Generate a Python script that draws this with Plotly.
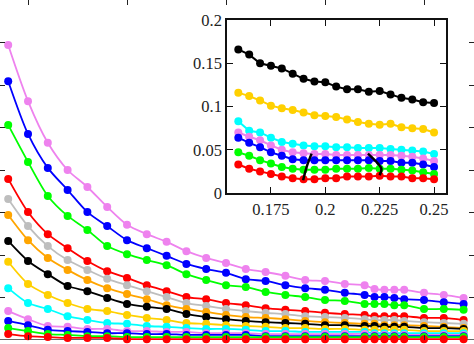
import plotly.graph_objects as go

# ---------------- main panel data ----------------
x_main = [0.04, 0.05, 0.06, 0.07, 0.08, 0.09, 0.10, 0.11, 0.12, 0.13, 0.14, 0.15,
          0.16, 0.17, 0.18, 0.19, 0.20, 0.21, 0.22, 0.225, 0.23, 0.235, 0.24,
          0.25, 0.26, 0.27]

pink_a = [0.694, 0.562, 0.464, 0.400, 0.360, 0.313, 0.271, 0.249, 0.231, 0.209, 0.193, 0.181,
          0.167, 0.160, 0.151, 0.141, 0.139, 0.132, 0.129, 0.120, 0.118, 0.118, 0.118,
          0.111, 0.106, 0.099]
blue_a = [0.609, 0.485, 0.405, 0.353, 0.301, 0.268, 0.235, 0.216, 0.198, 0.179, 0.167, 0.158,
          0.143, 0.139, 0.129, 0.122, 0.118, 0.111, 0.106, 0.101, 0.101, 0.099, 0.096,
          0.094, 0.089, 0.085]
green_a = [0.506, 0.419, 0.339, 0.292, 0.259, 0.221, 0.202, 0.188, 0.176, 0.155, 0.141, 0.129,
           0.125, 0.113, 0.106, 0.101, 0.094, 0.092, 0.085, 0.085, 0.085, 0.082, 0.082,
           0.073, 0.073, 0.071]
red_a = [0.379, 0.301, 0.249, 0.216, 0.186, 0.162, 0.146, 0.129, 0.115, 0.101, 0.096, 0.087,
         0.082, 0.075, 0.071, 0.068, 0.064, 0.061, 0.059, 0.056, 0.056, 0.056, 0.056,
         0.052, 0.052, 0.047]
gray_a = [0.332, 0.268, 0.221, 0.188, 0.165, 0.144, 0.129, 0.115, 0.101, 0.087, 0.080, 0.073,
          0.068, 0.064, 0.061, 0.056, 0.054, 0.052, 0.049, 0.047, 0.047, 0.047, 0.045,
          0.042, 0.040, 0.038]
orange_a = [0.294, 0.235, 0.193, 0.165, 0.141, 0.122, 0.108, 0.096, 0.082, 0.073, 0.066, 0.059,
            0.054, 0.052, 0.049, 0.045, 0.042, 0.040, 0.038, 0.038, 0.035, 0.035, 0.035,
            0.033, 0.031, 0.028]
black_a = [0.233, 0.186, 0.155, 0.127, 0.115, 0.099, 0.085, 0.078, 0.073, 0.061, 0.054, 0.049,
           0.045, 0.042, 0.040, 0.038, 0.035, 0.035, 0.033, 0.033, 0.031, 0.031, 0.031,
           0.028, 0.028, 0.026]
yellow_a = [0.184, 0.132, 0.106, 0.087, 0.073, 0.068, 0.059, 0.052, 0.047, 0.040, 0.038, 0.035,
            0.033, 0.031, 0.028, 0.028, 0.026, 0.026, 0.024, 0.024, 0.024, 0.024, 0.024,
            0.021, 0.021, 0.021]
cyan_a = [0.122, 0.087, 0.073, 0.056, 0.047, 0.040, 0.038, 0.033, 0.031, 0.028, 0.026, 0.026,
          0.024, 0.021, 0.021, 0.019, 0.019, 0.019, 0.019, 0.016, 0.016, 0.016, 0.016,
          0.016, 0.016, 0.016]
pink_b = [0.068, 0.049, 0.033, 0.031, 0.026, 0.026, 0.021, 0.021, 0.019, 0.019, 0.016, 0.016,
          0.016, 0.014, 0.014, 0.014, 0.014, 0.014, 0.014, 0.012, 0.012, 0.012, 0.012,
          0.012, 0.012, 0.012]
blue_b = [0.045, 0.035, 0.024, 0.021, 0.019, 0.016, 0.016, 0.014, 0.014, 0.012, 0.012, 0.012,
          0.012, 0.009, 0.009, 0.009, 0.009, 0.009, 0.009, 0.009, 0.009, 0.009, 0.009,
          0.009, 0.009, 0.009]
green_b = [0.028, 0.021, 0.014, 0.012, 0.009, 0.009, 0.007, 0.007, 0.007, 0.007, 0.007, 0.007,
           0.007, 0.007, 0.007, 0.007, 0.007, 0.007, 0.007, 0.007, 0.007, 0.007, 0.007,
           0.007, 0.007, 0.007]
red_b = [0.014, 0.009, 0.007, 0.005, 0.005, 0.005, 0.002, 0.002, 0.002, 0.002, 0.002, 0.002,
         0.002, 0.002, 0.002, 0.002, 0.002, 0.002, 0.002, 0.002, 0.002, 0.002, 0.002,
         0.002, 0.002, 0.002]

main_series = [
    ("pink", pink_a, "#EE82EE"),
    ("blue", blue_a, "#0000FF"),
    ("green", green_a, "#00FF00"),
    ("red", red_a, "#FF0000"),
    ("gray", gray_a, "#BEBEBE"),
    ("orange", orange_a, "#FFA500"),
    ("black", black_a, "#000000"),
    ("yellow", yellow_a, "#FFD000"),
    ("cyan", cyan_a, "#00FFFF"),
    ("pink2", pink_b, "#EE82EE"),
    ("blue2", blue_b, "#0000FF"),
    ("green2", green_b, "#00FF00"),
    ("red2", red_b, "#FF0000"),
]

main_xticks = [0.05, 0.10, 0.15, 0.20, 0.25]
main_yticks = [0.1, 0.2, 0.3, 0.4, 0.5, 0.6, 0.7]

# ---------------- inset data ----------------
x_inset = [0.160, 0.165, 0.170, 0.175, 0.180, 0.185, 0.190, 0.195, 0.200, 0.205,
           0.210, 0.215, 0.220, 0.225, 0.230, 0.235, 0.240, 0.245, 0.250]
ins_black = [0.166, 0.160, 0.150, 0.147, 0.144, 0.138, 0.132, 0.129, 0.128, 0.123,
             0.120, 0.120, 0.117, 0.118, 0.114, 0.110, 0.108, 0.105, 0.104]
ins_yellow = [0.116, 0.112, 0.107, 0.101, 0.098, 0.096, 0.093, 0.090, 0.089, 0.088,
              0.085, 0.082, 0.080, 0.079, 0.080, 0.076, 0.075, 0.074, 0.070]
ins_cyan = [0.083, 0.072, 0.070, 0.064, 0.059, 0.057, 0.055, 0.054, 0.054, 0.053,
            0.053, 0.052, 0.052, 0.052, 0.051, 0.050, 0.049, 0.048, 0.045]
ins_pink = [0.070, 0.065, 0.061, 0.055, 0.050, 0.047, 0.046, 0.045, 0.045, 0.044,
            0.044, 0.044, 0.044, 0.044, 0.044, 0.043, 0.042, 0.040, 0.037]
ins_blue = [0.064, 0.058, 0.053, 0.047, 0.043, 0.039, 0.038, 0.038, 0.038, 0.038,
            0.038, 0.038, 0.038, 0.037, 0.037, 0.035, 0.035, 0.033, 0.030]
ins_green = [0.047, 0.043, 0.038, 0.034, 0.030, 0.028, 0.027, 0.027, 0.027, 0.028,
             0.028, 0.028, 0.029, 0.028, 0.028, 0.027, 0.026, 0.024, 0.022]
ins_red = [0.033, 0.028, 0.025, 0.022, 0.019, 0.017, 0.016, 0.016, 0.017, 0.017,
           0.019, 0.019, 0.019, 0.020, 0.019, 0.019, 0.017, 0.017, 0.016]

inset_series = [
    ("black", ins_black, "#000000"),
    ("yellow", ins_yellow, "#FFD000"),
    ("cyan", ins_cyan, "#00FFFF"),
    ("pink", ins_pink, "#EE82EE"),
    ("blue", ins_blue, "#0000FF"),
    ("green", ins_green, "#00FF00"),
    ("red", ins_red, "#FF0000"),
]

# hand-drawn guide strokes inside the inset
stroke1_x = [0.1898, 0.1914, 0.1937]
stroke1_y = [0.0147, 0.0300, 0.0455]
stroke2_x = [0.2196, 0.2242, 0.2258, 0.2250]
stroke2_y = [0.0455, 0.0340, 0.0280, 0.0204]

inset_xticks = [0.175, 0.2, 0.225, 0.25]
inset_xticktext = ["0.175", "0.2", "0.225", "0.25"]
inset_yticks = [0, 0.05, 0.1, 0.15, 0.2]
inset_yticktext = ["0", "0.05", "0.1", "0.15", "0.2"]

SERIF = "Liberation Serif, Times New Roman, DejaVu Serif, serif"

fig = go.Figure()

for name, ys, col in main_series:
    fig.add_trace(go.Scatter(
        x=x_main, y=ys, mode="lines+markers", name=name,
        line=dict(color=col, width=1.8, shape="spline", smoothing=0.8),
        marker=dict(color=col, size=8),
        cliponaxis=False, xaxis="x", yaxis="y", showlegend=False))

for name, ys, col in inset_series:
    fig.add_trace(go.Scatter(
        x=x_inset, y=ys, mode="lines+markers", name="inset " + name,
        line=dict(color=col, width=2),
        marker=dict(color=col, size=8),
        xaxis="x2", yaxis="y2", showlegend=False))

for sx, sy in [(stroke1_x, stroke1_y), (stroke2_x, stroke2_y)]:
    fig.add_trace(go.Scatter(
        x=sx, y=sy, mode="lines", line=dict(color="#000000", width=2.5, shape="spline"),
        xaxis="x2", yaxis="y2", showlegend=False, hoverinfo="skip"))

W, H = 474, 344
plot_h = 340
fig.update_layout(
    width=W, height=H,
    margin=dict(l=0, r=0, t=0, b=H - plot_h, pad=0, autoexpand=False),
    paper_bgcolor="white", plot_bgcolor="white",
    showlegend=False,
    font=dict(family=SERIF),
    xaxis=dict(range=[0.03586, 0.27525], domain=[0, 1], showgrid=False, zeroline=False,
               showline=False, ticks="inside", ticklen=5, tickwidth=1, tickcolor="#222",
               mirror="ticks", tickvals=main_xticks, showticklabels=False),
    yaxis=dict(range=[0, 0.8], domain=[0, 1], showgrid=False, zeroline=False,
               showline=False, ticks="inside", ticklen=5, tickwidth=1, tickcolor="#222",
               mirror="ticks", tickvals=main_yticks, showticklabels=False),
    xaxis2=dict(range=[0.1548, 0.2555], domain=[227 / W, 446 / W], anchor="y2",
                showgrid=False, zeroline=False, showline=True, linecolor="#111", linewidth=1.5,
                mirror="ticks", ticks="inside", ticklen=6, tickwidth=1, tickcolor="#111",
                tickvals=inset_xticks, ticktext=inset_xticktext,
                tickfont=dict(family=SERIF, size=16.5, color="#222")),
    yaxis2=dict(range=[0, 0.2], domain=[1 - 193 / plot_h, 1 - 20 / plot_h], anchor="x2",
                showgrid=False, zeroline=False, showline=True, linecolor="#111", linewidth=1.5,
                mirror="ticks", ticks="inside", ticklen=6, tickwidth=1, tickcolor="#111",
                tickvals=inset_yticks, ticktext=inset_yticktext,
                tickfont=dict(family=SERIF, size=16.5, color="#222")),
    shapes=[dict(type="line", xref="paper", yref="y", x0=0, x1=1, y0=0, y1=0,
                 line=dict(color="#333", width=1.5), layer="below"),
            dict(type="rect", xref="x2 domain", yref="y2 domain", x0=0, x1=1, y0=0, y1=1,
                 fillcolor="white", line=dict(width=0), layer="below")],
)

fig.write_html("out.html")
